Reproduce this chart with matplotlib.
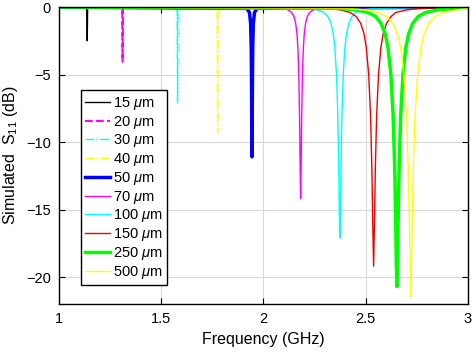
import numpy as np
import matplotlib
matplotlib.use("Agg")
import matplotlib.pyplot as plt

plt.rcParams['font.family'] = ['Liberation Sans', 'DejaVu Sans']
plt.rcParams['mathtext.fontset'] = 'custom'
plt.rcParams['mathtext.rm'] = 'Liberation Sans'
plt.rcParams['mathtext.it'] = 'Liberation Sans:italic'

# slot widths (legend)
labels = ['15', '20', '30', '40', '50', '70', '100', '150', '250', '500']

# frequency (GHz) / simulated S11 (dB)
f15 = [1.0, 1.136, 1.138, 1.140, 3.0]
s15 = [0, 0, -2.5, 0, 0]
f20 = [1.0, 1.309, 1.311, 1.313, 3.0]
s20 = [0, 0, -4.05, 0, 0]
f30 = [1.0, 1.578, 1.580, 1.582, 3.0]
s30 = [0, 0, -7.1, 0, 0]
f40 = [1.0, 1.774, 1.776, 1.778, 3.0]
s40 = [0, 0, -9.3, 0, 0]
f50 = [1.0, 1.9189, 1.9317, 1.9373, 1.9403, 1.9416, 1.9428, 1.944,
       1.9452, 1.9464, 1.9477, 1.9507, 1.9563, 1.9691, 3.0]
s50 = [0, -0.1, -0.4, -1.2, -3, -5, -8, -11.1, -8, -5, -3, -1.2, -0.4, -0.1, 0]
f70 = [1.0, 2.0921, 2.1188, 2.1379, 2.1493, 2.1578, 2.1643, 2.1685, 2.1731,
       2.1767, 2.1798, 2.182, 2.1842, 2.1873, 2.1909, 2.1955, 2.1997, 2.2062,
       2.2147, 2.2261, 2.2452, 2.2719, 3.0]
s70 = [0, -0.1, -0.2, -0.4, -0.7, -1.2, -2, -3, -5, -8, -12, -14.2,
       -12, -8, -5, -3, -2, -1.2, -0.7, -0.4, -0.2, -0.1, 0]
f100 = [1.0, 2.2118, 2.260, 2.2944, 2.3149, 2.3302, 2.3418, 2.3494, 2.3575,
        2.3638, 2.3686, 2.3721, 2.374, 2.3759, 2.3794, 2.3842, 2.3905, 2.3986,
        2.4062, 2.4178, 2.4331, 2.4536, 2.488, 2.5362, 3.0]
s100 = [0, -0.1, -0.2, -0.4, -0.7, -1.2, -2, -3, -5, -8, -12, -16, -17.1,
        -16, -12, -8, -5, -3, -2, -1.2, -0.7, -0.4, -0.2, -0.1, 0]
f150 = [1.0, 2.305, 2.374, 2.424, 2.4535, 2.4757, 2.4924, 2.5033, 2.515,
        2.524, 2.5306, 2.5348, 2.539, 2.5432, 2.5474, 2.554, 2.563, 2.5747,
        2.5856, 2.6023, 2.6245, 2.6475, 2.704, 2.773, 3.0]
s150 = [0, -0.1, -0.2, -0.4, -0.7, -1.2, -2, -3, -5, -8, -12, -16, -19.2,
        -16, -12, -8, -5, -3, -2, -1.2, -0.7, -0.4, -0.2, -0.1, 0]
f250 = [1.0, 2.366, 2.4512, 2.512, 2.5483, 2.5754, 2.5958, 2.6093, 2.6235,
        2.6344, 2.6424, 2.6473, 2.6502, 2.653, 2.6558, 2.6587, 2.6636, 2.6716,
        2.6825, 2.6967, 2.7102, 2.7306, 2.7577, 2.794, 2.8548, 2.940, 3.0]
s250 = [0, -0.1, -0.2, -0.4, -0.7, -1.2, -2, -3, -5, -8, -12, -16, -19, -20.7,
        -19, -16, -12, -8, -5, -3, -2, -1.2, -0.7, -0.4, -0.2, -0.1, -0.05]
f500 = [1.0, 2.395, 2.4916, 2.5607, 2.602, 2.6328, 2.656, 2.6712, 2.6874,
        2.6998, 2.7088, 2.7143, 2.7176, 2.721, 2.7244, 2.7277, 2.7332, 2.7422,
        2.7546, 2.7708, 2.786, 2.8092, 2.840, 2.8813, 2.9504, 3.0]
s500 = [0, -0.1, -0.2, -0.4, -0.7, -1.2, -2, -3, -5, -8, -12, -16, -19, -21.5,
        -19, -16, -12, -8, -5, -3, -2, -1.2, -0.7, -0.4, -0.2, -0.12]

freqs = [f15, f20, f30, f40, f50, f70, f100, f150, f250, f500]
s11s = [s15, s20, s30, s40, s50, s70, s100, s150, s250, s500]
colors = ['#000000', '#ff00ff', '#00ffff', '#ffff00', '#0000ff',
          '#ff00ff', '#00ffff', '#ee0000', '#00ff00', '#ffff00']
styles = ['-', '--', '-.', '-.', '-', '-', '-', '-', '-', '-']
widths = [1.0, 1.5, 1.0, 1.0, 2.5, 1.0, 1.0, 1.0, 2.5, 1.0]

fig = plt.figure(figsize=(4.74, 3.53), dpi=100)
ax = fig.add_axes([0.1245, 0.1388, 0.8625, 0.8412])

for f, s, lab, c, ls, lw in zip(freqs, s11s, labels, colors, styles, widths):
    ax.plot(f, s, color=c, linestyle=ls, linewidth=lw, label=lab + r' $\mu$m')

ax.set_xlim(1, 3)
ax.set_ylim(-22, 0)
ax.set_xticks([1, 1.5, 2, 2.5, 3])
ax.set_xticklabels(['1', '1.5', '2', '2.5', '3'])
ax.set_yticks([0, -5, -10, -15, -20])
ax.grid(True, color='#d9d9d9', linewidth=0.8)
ax.set_axisbelow(True)
ax.tick_params(direction='in', top=True, right=True, labelsize=10.5,
               length=4, width=0.8, pad=6)
for sp in ax.spines.values():
    sp.set_linewidth(1.0)

ax.set_xlabel('Frequency (GHz)', fontsize=11.5, labelpad=4)
ax.set_ylabel('Simulated  S$_{11}$ (dB)', fontsize=11.5, labelpad=4)

leg = ax.legend(loc='lower left', bbox_to_anchor=(0.054, 0.064),
                fontsize=10.5, frameon=True, fancybox=False,
                edgecolor='k', framealpha=1, borderpad=0.3,
                labelspacing=0.12, handlelength=1.65, handletextpad=0.25,
                borderaxespad=0)
leg.get_frame().set_linewidth(1.0)

fig.savefig('out.png', dpi=100)
